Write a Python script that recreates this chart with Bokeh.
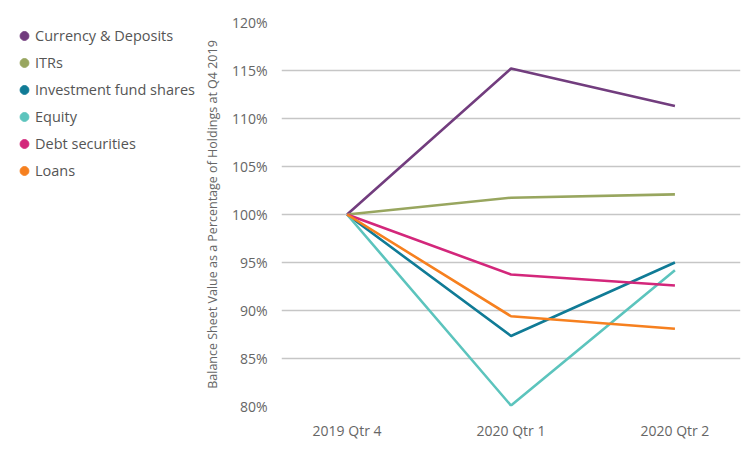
from bokeh.plotting import figure
from bokeh.layouts import row
from bokeh.models import Legend, LegendItem, FixedTicker, PrintfTickFormatter, Range1d, Spacer
from bokeh.embed import file_html
from bokeh.resources import INLINE

categories = ["2019 Qtr 4", "2020 Qtr 1", "2020 Qtr 2"]
series_names = ["Currency & Deposits", "ITRs", "Investment fund shares", "Equity", "Debt securities", "Loans"]
currency = [100, 115.2, 111.3]
itrs = [100, 101.75, 102.1]
investment = [100, 87.35, 95.0]
equity = [100, 80.1, 94.2]
debt = [100, 93.75, 92.6]
loans = [100, 89.4, 88.1]
y_ticks = [80, 85, 90, 95, 100, 105, 110, 115, 120]
colors = ["#723d7e", "#98a65f", "#107b96", "#5cc4bd", "#d3277b", "#f6801f"]

series_values = [currency, itrs, investment, equity, debt, loans]
x_pos = list(range(len(categories)))

# main chart
p = figure(width=548, height=442, output_backend="svg", toolbar_location=None,
           x_range=Range1d(-0.4, 2.4), y_range=Range1d(80, 120),
           min_border_left=55, min_border_right=8, min_border_top=22, min_border_bottom=35)
p.outline_line_color = None
p.background_fill_color = "white"
p.border_fill_color = "white"

for vals, col in zip(series_values, colors):
    p.line(x_pos, vals, line_color=col, line_width=2.6)

p.xaxis.ticker = FixedTicker(ticks=x_pos)
p.xaxis.major_label_overrides = {i: c for i, c in zip(x_pos, categories)}
p.yaxis.ticker = FixedTicker(ticks=y_ticks)
p.yaxis.formatter = PrintfTickFormatter(format="%d%%")

for ax in (p.xaxis[0], p.yaxis[0]):
    ax.axis_line_color = None
    ax.major_tick_line_color = None
    ax.minor_tick_line_color = None
    ax.major_label_text_font = "Open Sans"
    ax.major_label_text_font_size = "14px"
    ax.major_label_text_color = "#666666"

p.xaxis.major_label_standoff = 8
p.yaxis.major_label_standoff = 8
p.yaxis.axis_label = "Balance Sheet Value as a Percentage of Holdings at Q4 2019"
p.yaxis.axis_label_text_font = "Open Sans"
p.yaxis.axis_label_text_font_size = "12.5px"
p.yaxis.axis_label_text_font_style = "normal"
p.yaxis.axis_label_text_color = "#666666"
p.yaxis.axis_label_standoff = 8

p.xgrid.grid_line_color = None
p.ygrid.grid_line_color = "#c6c6c6"
p.ygrid.grid_line_width = 1.5

# legend panel
lg = figure(width=187, height=442, output_backend="svg", toolbar_location=None,
            x_axis_type=None, y_axis_type=None,
            x_range=Range1d(-0.4, 2.4), y_range=Range1d(80, 120),
            min_border_left=0, min_border_right=0, min_border_top=11, min_border_bottom=0)
lg.title = None
lg.outline_line_color = None
lg.grid.grid_line_color = None
items = []
for name, vals, col in zip(series_names, series_values, colors):
    r = lg.scatter(x_pos, vals, marker="circle", fill_color=col, line_color=col, visible=False)
    items.append(LegendItem(label=name, renderers=[r]))

legend = Legend(items=items, location="top_left", orientation="vertical",
                glyph_width=22, glyph_height=27, label_standoff=0, spacing=0,
                padding=0, margin=0, border_line_color=None, background_fill_alpha=0,
                label_text_font="Open Sans", label_text_font_size="14.5px",
                label_text_color="#555555", label_height=27,
                inactive_fill_alpha=0)
lg.add_layout(legend, "left")

layout = row(Spacer(width=13, height=442), lg, p, spacing=0)
open("out.html", "w").write(file_html(layout, INLINE))
